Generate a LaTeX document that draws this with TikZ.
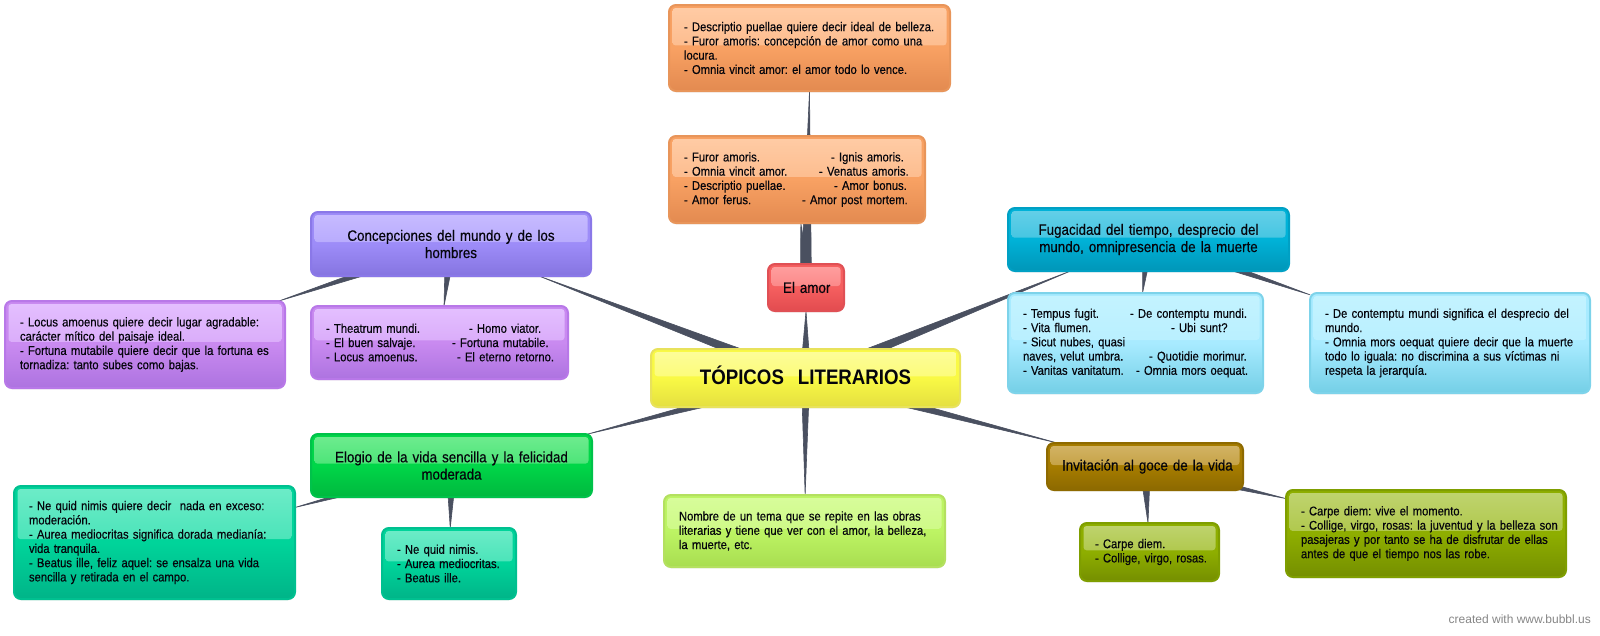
\documentclass[tikz,border=0pt]{standalone}
\usepackage{fontspec}
\setmainfont[FakeBold=0.4,FakeStretch=0.885]{Liberation Sans}
\newfontfamily\titlefont[FakeStretch=0.89]{Liberation Sans Bold}
\newfontfamily\plainfont{Liberation Sans}
\usetikzlibrary{calc,backgrounds,shadows}
\newcommand\defpal[6]{%
 \definecolor{#1B}{HTML}{#2}\definecolor{#1H}{HTML}{#3}\definecolor{#1L}{HTML}{#4}%
 \definecolor{#1M}{HTML}{#5}\definecolor{#1D}{HTML}{#6}}
\defpal{yel}{E8E25C}{FDFD9C}{FBFB68}{F9F945}{E4DF40}
\defpal{red}{E05055}{FFA0A0}{FB8484}{F55F5F}{E24B4F}
\defpal{ora}{E8955A}{FFCCA6}{FDBA8C}{F8A163}{E38A50}
\defpal{pur}{B878E8}{E4C0FF}{D8A8FA}{C98AF0}{AD73E0}
\defpal{vio}{8A78E8}{C8BCFF}{B5A8FF}{9D8CF8}{8574E0}
\defpal{blu}{00A0C4}{66D0E8}{4CC4E0}{00B2D8}{0096B8}
\defpal{cya}{7DD3EA}{C4F3FF}{B4EEFF}{A8EBFF}{74CFE6}
\defpal{gre}{00C24A}{70EC90}{55E47A}{00D648}{00B83E}
\defpal{tea}{00C090}{6EECC8}{50E4BC}{00D49A}{00B488}
\defpal{bro}{8E6A00}{D4B568}{C8A44A}{A67C00}{8C6900}
\defpal{oli}{7F9E00}{C0D470}{B4CC58}{8EAE00}{758F00}
\defpal{lim}{B4E060}{D8FD9C}{CCF880}{BDF464}{A8DD50}
\definecolor{wedgecol}{HTML}{4A5060}
\definecolor{inkcol}{HTML}{05050C}
\tikzset{
 x=1pt,y=-1pt,
 bub/.style={rounded corners=7pt,draw=#1B,line width=2pt,inner sep=0pt,outer sep=0pt,
   top color=#1M,bottom color=#1D,middle color=#1M,text=inkcol,
   drop shadow={opacity=.10,shadow xshift=0pt,shadow yshift=-1.5pt},
   path picture={
     \shade[top color=#1H,bottom color=#1L!45!#1M,rounded corners=3pt,draw=none]
       ([xshift=3.5pt,yshift=-3pt]path picture bounding box.north west) rectangle
       ($(path picture bounding box.north east)!.47!(path picture bounding box.south east)+(-3.5pt,0pt)$);
   }},
 body/.style={align=left,font=\fontsize{12.7}{14.25}\selectfont},
 headt/.style={align=center,font=\fontsize{15.1}{17.2}\selectfont},
 titlet/.style={align=center,font=\titlefont\fontsize{21}{26}\selectfont},
 mark text/.style={font=\plainfont\fontsize{12}{14}\selectfont,text=black!48,anchor=east,inner sep=0pt},
}
\newcommand\bub[8]{%
 \pgfmathsetmacro\cx{(#2+#4)/2}\pgfmathsetmacro\cy{(#3+#5)/2}%
 \pgfmathsetmacro\ww{#4-#2-2}\pgfmathsetmacro\hh{#5-#3-2}\pgfmathsetmacro\tw{#4-#2-32}%
 \node[bub=#6,minimum width=\ww pt,minimum height=\hh pt,text width=\tw pt,#7] (#1) at (\cx,\cy) {#8};}
\newcommand\wedgec[3][5.5]{%
 \path let \p1=($(#2.center)-(#3.center)$), \n1={atan2(\y1,\x1)} in coordinate (tipx) at (#3.\n1);
 \filldraw[wedgecol,line width=.6pt,line join=round] ($(#2.center)!#1pt!90:(#3.center)$) -- (tipx) -- ($(#2.center)!#1pt!-90:(#3.center)$) -- cycle;}
\newcommand\rowc[3]{\mbox{\makebox[#1pt][l]{#2}#3}}
\begin{document}
\frenchspacing
\begin{tikzpicture}
\useasboundingbox (0,0) rectangle (1600,635);
\bub{desc}{668}{4}{951}{92}{ora}{body}{\mbox{- Descriptio puellae quiere decir ideal de belleza.}\\\mbox{- Furor amoris: concepción de amor como una}\\locura.\\- Omnia vincit amor: el amor todo lo vence.}
\bub{furor}{668}{135}{926}{224}{ora}{body}{\rowc{147}{- Furor amoris.}{- Ignis amoris.}\\\rowc{135}{- Omnia vincit amor.}{- Venatus amoris.}\\\rowc{150}{- Descriptio puellae.}{- Amor bonus.}\\\rowc{118}{- Amor ferus.}{- Amor post mortem.}}
\bub{amor}{767}{263}{845}{312}{red}{headt}{\mbox{El amor}}
\bub{main}{650}{348}{961}{408}{yel}{titlet}{\mbox{\raisebox{3pt}[\height][\depth]{TÓPICOS\ \ LITERARIOS}}}
\bub{conc}{310}{211}{592}{277}{vio}{headt}{\mbox{Concepciones del mundo y de los}\\hombres}
\bub{locus}{4}{300}{286}{389}{pur}{body}{\mbox{- Locus amoenus quiere decir lugar agradable:}\\carácter mítico del paisaje ideal.\\\mbox{- Fortuna mutabile quiere decir que la fortuna es}\\tornadiza: tanto subes como bajas.}
\bub{thea}{310}{305}{569}{380}{pur}{body}{\rowc{143}{- Theatrum mundi.}{- Homo viator.}\\\rowc{126}{- El buen salvaje.}{- Fortuna mutabile.}\\\rowc{131}{- Locus amoenus.}{- El eterno retorno.}}
\bub{fuga}{1007}{207}{1290}{272}{blu}{headt}{\mbox{Fugacidad del tiempo, desprecio del}\\\mbox{mundo, omnipresencia de la muerte}}
\bub{temp}{1007}{292}{1264}{394}{cya}{body}{\rowc{107}{- Tempus fugit.}{- De contemptu mundi.}\\\rowc{148}{- Vita flumen.}{- Ubi sunt?}\\- Sicut nubes, quasi\\\rowc{126}{naves, velut umbra.}{- Quotidie morimur.}\\\rowc{113}{- Vanitas vanitatum.}{- Omnia mors oequat.}}
\bub{cont}{1309}{292}{1591}{394}{cya}{body}{\mbox{- De contemptu mundi significa el desprecio del}\\mundo.\\\mbox{- Omnia mors oequat quiere decir que la muerte}\\\mbox{todo lo iguala: no discrimina a sus víctimas ni}\\respeta la jerarquía.}
\bub{elog}{310}{433}{593}{498}{gre}{headt}{\mbox{Elogio de la vida sencilla y la felicidad}\\moderada}
\bub{nelong}{13}{485}{296}{600}{tea}{body}{\mbox{- Ne quid nimis quiere decir\ \ nada en exceso:}\\moderación.\\\mbox{- Aurea mediocritas significa dorada medianía:}\\vida tranquila.\\\mbox{- Beatus ille, feliz aquel: se ensalza una vida}\\sencilla y retirada en el campo.}
\bub{neshort}{381}{527}{517}{600}{tea}{body}{- Ne quid nimis.\\\mbox{- Aurea mediocritas.}\\- Beatus ille.}
\bub{nomb}{663}{494}{946}{568}{lim}{body}{\mbox{Nombre de un tema que se repite en las obras}\\\mbox{literarias y tiene que ver con el amor, la belleza,}\\la muerte, etc.}
\bub{invi}{1046}{442}{1244}{491}{bro}{headt}{\mbox{Invitación al goce de la vida}}
\bub{cshort}{1079}{522}{1220}{582}{oli}{body}{- Carpe diem.\\\mbox{- Collige, virgo, rosas.}}
\bub{clong}{1285}{489}{1567}{578}{oli}{body}{- Carpe diem: vive el momento.\\\mbox{- Collige, virgo, rosas: la juventud y la belleza son}\\\mbox{pasajeras y por tanto se ha de disfrutar de ellas}\\antes de que el tiempo nos las robe.}
\node[mark text] (wm) at (1591,619) {created with www.bubbl.us};
\begin{scope}[on background layer]
\wedgec{main}{amor}\wedgec{main}{conc}\wedgec{main}{fuga}\wedgec{main}{elog}\wedgec[4.2]{main}{nomb}\wedgec{main}{invi}
\wedgec{amor}{furor}\wedgec{amor}{desc}
\wedgec{conc}{locus}\wedgec{conc}{thea}
\wedgec{fuga}{temp}\wedgec{fuga}{cont}
\wedgec{elog}{nelong}\wedgec{elog}{neshort}
\wedgec{invi}{cshort}\wedgec{invi}{clong}
\end{scope}
\end{tikzpicture}
\end{document}
